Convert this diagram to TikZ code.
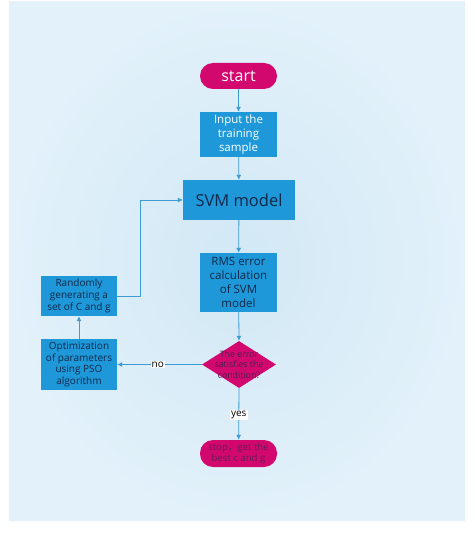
\documentclass[tikz,border=0pt]{standalone}
\usepackage{fontspec}
\setmainfont{Open Sans}
\newfontfamily\cjk{Noto Sans CJK SC}
\usetikzlibrary{shapes.geometric,arrows.meta}
\definecolor{boxblue}{HTML}{1E98D8}
\definecolor{linec}{HTML}{3C9CD4}
\definecolor{mag}{HTML}{D3086E}
\definecolor{navy}{HTML}{10284A}
\definecolor{bgout}{HTML}{E2F1FA}
\definecolor{bgin}{HTML}{D2E8F5}
\begin{document}
\begin{tikzpicture}[x=1pt,y=-1pt,
  proc/.style={rectangle,fill=boxblue,inner sep=0pt,align=center},
  term/.style={rectangle,rounded corners=13pt,fill=mag,inner sep=0pt,align=center},
  dec/.style={diamond,fill=mag,inner sep=0pt,align=center},
  conn/.style={draw=linec,line width=0.8pt,-{Latex[length=5pt,width=5pt]}},
  lbl/.style={fill=white,inner sep=1pt,font=\fontsize{10}{11}\selectfont}]
\useasboundingbox (0,0) rectangle (474,545);
\fill[white] (0,0) rectangle (474,545);
\shade[inner color=bgin,outer color=bgout] (9,2) rectangle (465,520);
% nodes
\node[term,minimum width=77pt,minimum height=26pt,text=white,font=\fontsize{16}{18}\selectfont] (start) at (238.5,76) {start};
\node[proc,minimum width=77pt,minimum height=45pt,text=white,font=\fontsize{11.5}{13.6}\selectfont] (input) at (238.5,134.5) {Input the\\training\\sample};
\node[proc,minimum width=112pt,minimum height=40pt,text=navy,font=\fontsize{16.5}{18}\selectfont] (svm) at (239,200) {SVM model};
\node[proc,minimum width=77pt,minimum height=59pt,text=navy,font=\fontsize{11.5}{13.8}\selectfont] (rms) at (238.5,282.5) {RMS error\\calculation\\of SVM\\model};
\node[dec,minimum width=74pt,minimum height=47pt,aspect=1.57] (cond) at (239,364.5) {};
\node[text=navy!70!mag,font=\fontsize{8.8}{10.5}\selectfont,align=center,inner sep=0pt] (condt) at (239,364.5) {The error\\satisfies the\\condition?};
\node[term,minimum width=77pt,minimum height=27pt,text=navy!55!mag,font=\fontsize{9.6}{11.5}\selectfont] (stop) at (238.5,453.5) {stop{\cjk ，}get the\\best c and g};
\node[proc,minimum width=76pt,minimum height=40pt,text=navy,font=\fontsize{10}{12}\selectfont] (rand) at (79,296) {Randomly\\generating a\\set of C and g};
\node[proc,minimum width=76pt,minimum height=51pt,text=navy,font=\fontsize{10}{11.7}\selectfont] (opt) at (79,364.5) {Optimization\\of parameters\\using PSO\\algorithm};
% connectors
\draw[conn] (start) -- (input);
\draw[conn] (input) -- (svm);
\draw[conn] (svm) -- (rms);
\draw[conn] (rms) -- (cond.north);
\draw[conn] (cond.south) -- node[lbl,pos=0.52]{yes} (stop);
\draw[conn] (cond.west) -- node[lbl,pos=0.52]{no} (opt.east);
\draw[conn] (opt) -- (rand);
\draw[conn] (rand.east) -- (140,296) |- (svm.west);
\end{tikzpicture}
\end{document}
